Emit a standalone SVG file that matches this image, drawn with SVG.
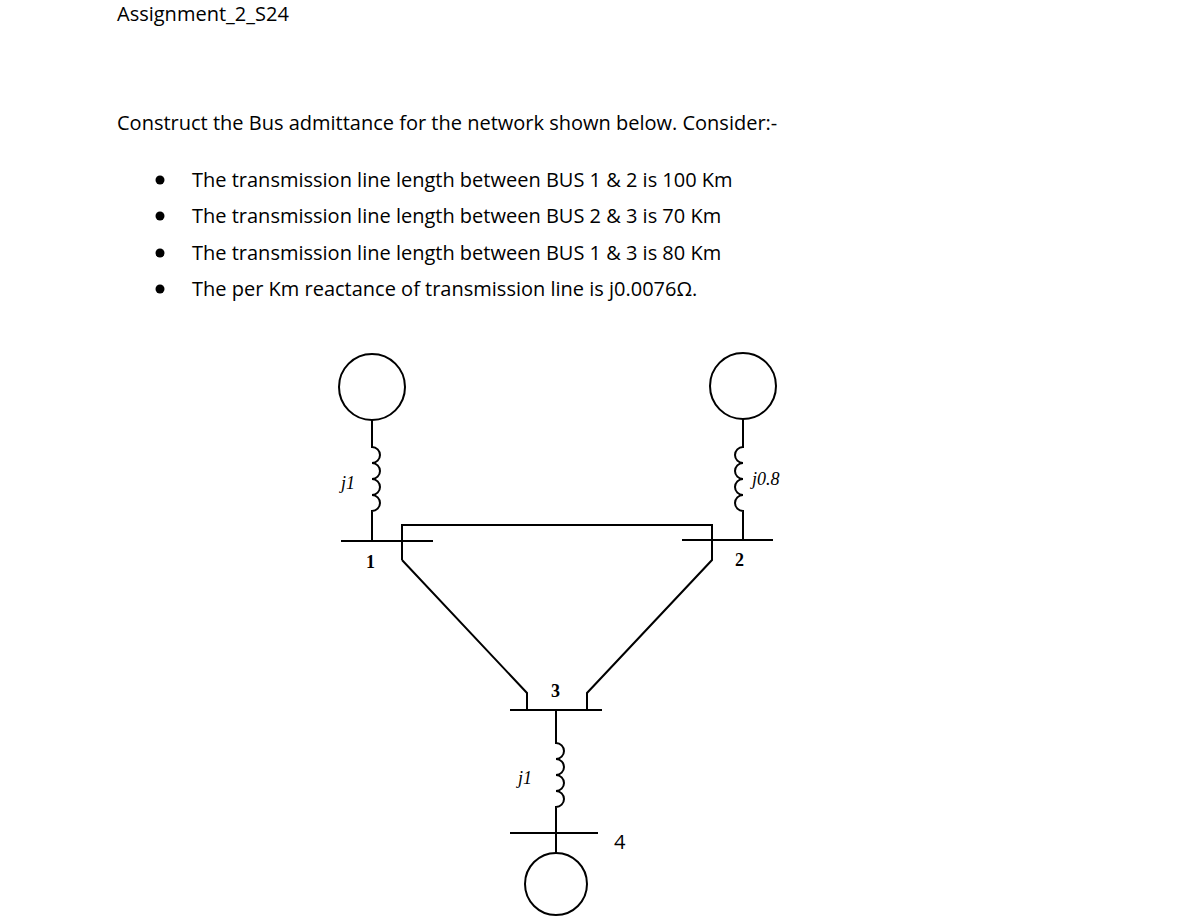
<svg xmlns="http://www.w3.org/2000/svg" width="1181" height="917" viewBox="0 0 1181 917">
<style>
.t{font-family:"Open Sans","Liberation Sans",sans-serif;font-size:20px;fill:#000}
.l{font-family:"Liberation Serif",serif;font-size:18px;fill:#000}
.w{stroke:#000;stroke-width:2;fill:none}
</style>
<rect width="1181" height="917" fill="#fff"/>
<text class="t" x="117" y="21">Assignment_2_S24</text>
<text class="t" x="117" y="130">Construct the Bus admittance for the network shown below. Consider:-</text>
<g class="t">
<circle cx="160" cy="180" r="4.5"/><text x="192" y="187">The transmission line length between BUS 1 &amp; 2 is 100 Km</text>
<circle cx="160" cy="216" r="4.5"/><text x="192" y="223">The transmission line length between BUS 2 &amp; 3 is 70 Km</text>
<circle cx="160" cy="253" r="4.5"/><text x="192" y="260">The transmission line length between BUS 1 &amp; 3 is 80 Km</text>
<circle cx="160" cy="289" r="4.5"/><text x="192" y="296">The per Km reactance of transmission line is j0.0076Ω.</text>
</g>
<g id="gen1"><circle class="w" cx="372" cy="387" r="33"/>
<path class="w" d="M372 420V447 a8 8 0 0 1 0 16 a8 8 0 0 1 0 16 a8 8 0 0 1 0 16 a8 8 0 0 1 0 16 V541"/>
<text class="l" x="341" y="489" font-style="italic">j1</text></g>
<g id="bus1"><path class="w" d="M341 541H433"/><text class="l" x="366" y="568" font-weight="bold">1</text></g>
<g id="gen2"><circle class="w" cx="743" cy="386" r="33"/>
<path class="w" d="M743 419V447 a8 8 0 0 0 0 16 a8 8 0 0 0 0 16 a8 8 0 0 0 0 16 a8 8 0 0 0 0 16 V540"/>
<text class="l" x="752" y="485" font-style="italic">j0.8</text></g>
<g id="bus2"><path class="w" d="M682 540H773"/><text class="l" x="735" y="566" font-weight="bold">2</text></g>
<g id="bus3"><path class="w" d="M510 710H602"/><text class="l" x="551" y="697" font-weight="bold">3</text></g>
<g id="bus4"><path class="w" d="M510 833H598"/><text class="t" x="614" y="849" font-size="18">4</text>
<circle class="w" cx="556" cy="884" r="31"/><path class="w" d="M556 833V853"/></g>
<g id="connectors">
<path class="w" d="M402 560V525H712V560L587 693V710"/>
<path class="w" d="M402 560L527 693V710"/>
<path class="w" d="M556 710V743 a8 8 0 0 1 0 16 a8 8 0 0 1 0 16 a8 8 0 0 1 0 16 a8 8 0 0 1 0 16 V833"/>
<text class="l" x="518" y="784" font-style="italic">j1</text>
</g>
</svg>
